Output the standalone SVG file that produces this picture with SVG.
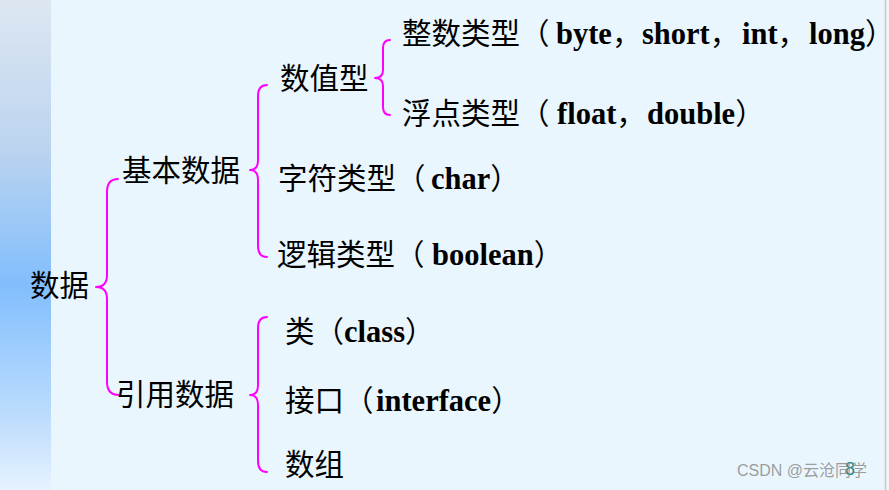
<svg xmlns="http://www.w3.org/2000/svg" width="889" height="490" viewBox="0 0 889 490">
<defs>
<linearGradient id="strip" x1="0" y1="0" x2="0" y2="1">
<stop offset="0" stop-color="#dde7f2"/>
<stop offset="0.3" stop-color="#bcd4ef"/>
<stop offset="0.58" stop-color="#82befd"/>
<stop offset="0.85" stop-color="#bcdcfd"/>
<stop offset="1" stop-color="#e6f2ff"/>
</linearGradient>
<style>
.t{font-family:"Liberation Serif","Noto Sans CJK SC",serif;font-size:29.5px;fill:#000;}
.l{font-weight:bold;font-size:30.5px;}
.br{fill:none;stroke:#ff00ff;stroke-width:2;stroke-linecap:round;stroke-linejoin:round;}
</style>
</defs>
<rect x="0" y="0" width="889" height="490" fill="#eaf6fe"/>
<rect x="0" y="0" width="51" height="490" fill="url(#strip)"/>
<rect x="885" y="0" width="4" height="490" fill="#f2f4f6"/>
<line x1="885.5" y1="0" x2="885.5" y2="490" stroke="#c8c8c8" stroke-width="1.5"/>
<g id="connectors">
<path class="br" d="M118,179 Q107,179 107,192 L107,275 Q107,287 96,287 Q107,287 107,299 L107,382 Q107,395 119,395"/>
<path class="br" d="M267,85 Q258,85 258,96 L258,160 Q258,170 250,170 Q258,170 258,180 L258,246 Q258,257 267,257"/>
<path class="br" d="M267,317 Q258,317 258,328 L258,385 Q258,395 250,395 Q258,395 258,405 L258,461 Q258,472 267,472"/>
<path class="br" d="M390,40 Q383,40 383,48 L383,70 Q383,78 375,78 Q383,78 383,86 L383,107 Q383,115 390,115"/>
</g>
<g id="n-data"><text class="t" x="30" y="296">数据</text></g>
<g id="n-basic"><text class="t" x="122" y="181">基本数据</text></g>
<g id="n-ref"><text class="t" x="116" y="405">引用数据</text></g>
<g id="n-num"><text class="t" x="280" y="89">数值型</text></g>
<g id="n-int"><text class="t" x="402" y="44">整数类型（<tspan class="l" x="556">byte</tspan>，<tspan class="l" x="642">short</tspan>，<tspan class="l" x="742">int</tspan>，<tspan class="l" x="809">long</tspan>）</text></g>
<g id="n-float"><text class="t" x="402" y="124">浮点类型（<tspan class="l" x="557">float</tspan>，<tspan class="l" x="647">double</tspan>）</text></g>
<g id="n-char"><text class="t" x="278" y="189">字符类型（<tspan class="l" x="431">char</tspan>）</text></g>
<g id="n-bool"><text class="t" x="277" y="265">逻辑类型（<tspan class="l" x="432">boolean</tspan>）</text></g>
<g id="n-class"><text class="t" x="285" y="342">类（<tspan class="l" x="344">class</tspan>）</text></g>
<g id="n-iface"><text class="t" x="285" y="411">接口（<tspan class="l" x="376">interface</tspan>）</text></g>
<g id="n-array"><text class="t" x="285" y="475">数组</text></g>
<g id="page"><text x="845" y="475" font-family="Liberation Sans,sans-serif" font-size="18" fill="#1b8a8a">8</text></g>
<g id="watermark"><text x="737" y="476" font-family="Liberation Sans,'Noto Sans CJK SC',sans-serif" font-size="16" fill="#8c8c8c" fill-opacity="0.85">CSDN @云沧同学</text></g>
</svg>
